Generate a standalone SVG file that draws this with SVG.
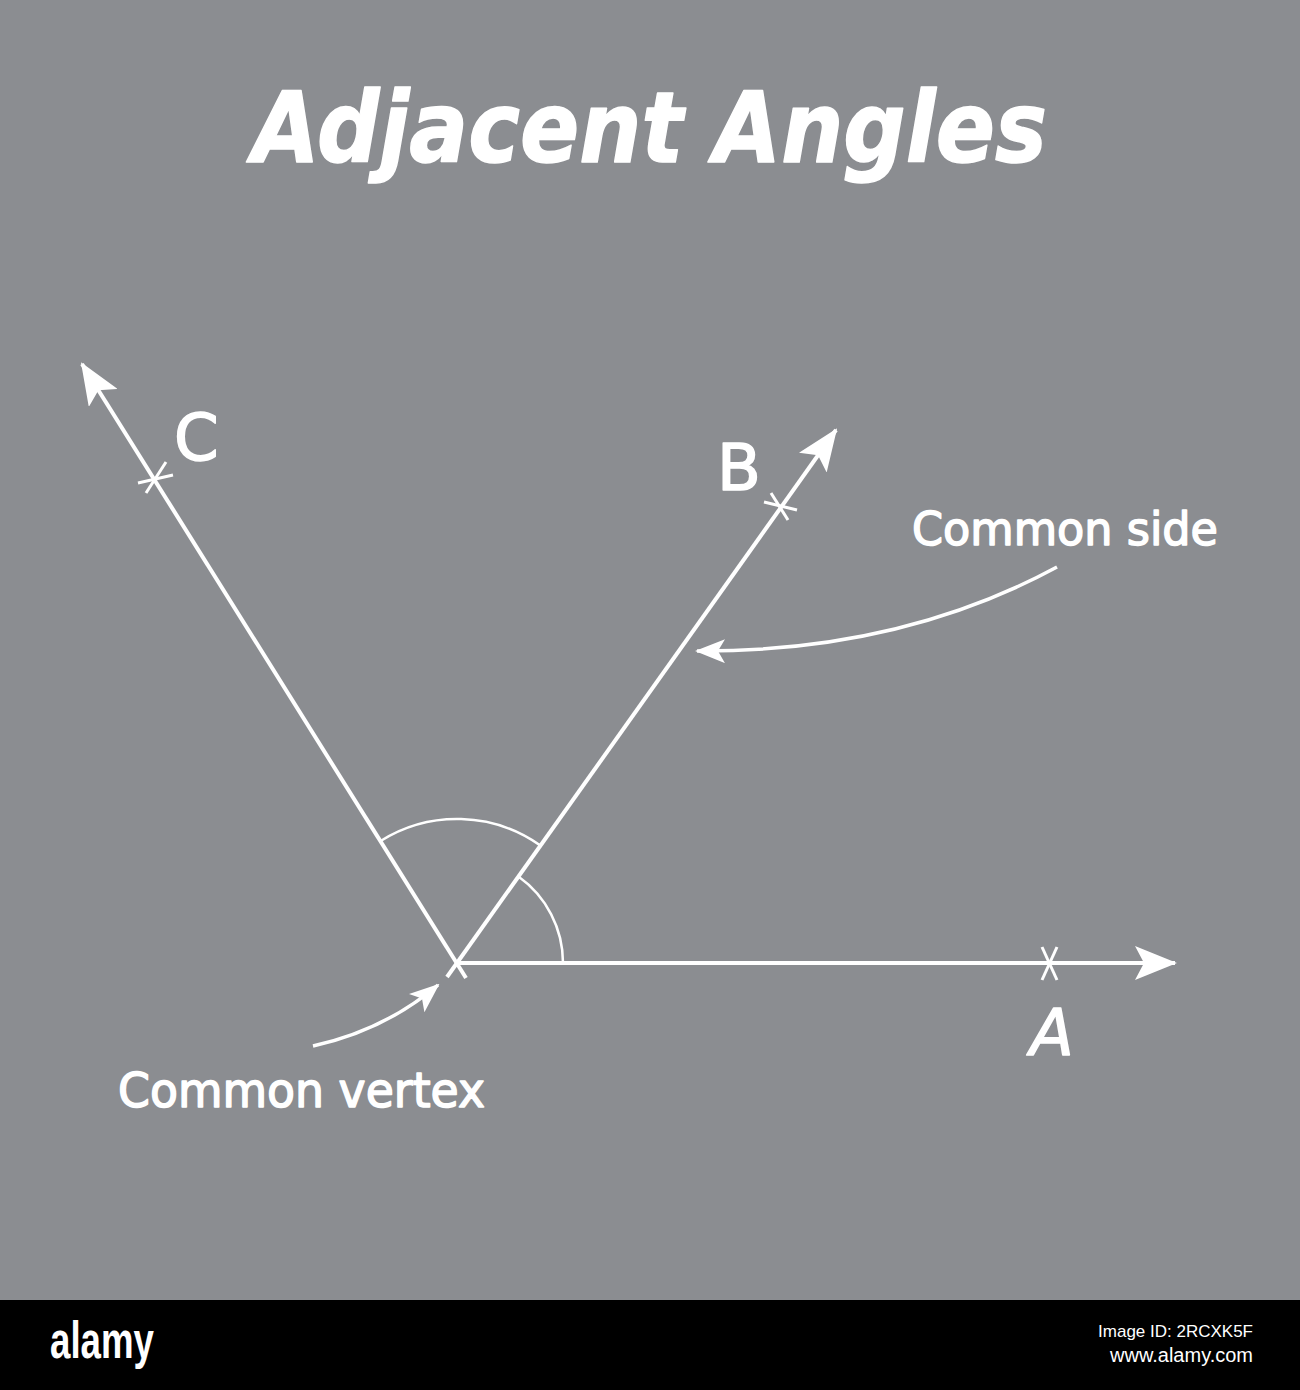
<svg xmlns="http://www.w3.org/2000/svg" width="1300" height="1390" viewBox="0 0 1300 1390">
<defs>
<style>
.ray{stroke:#fff;stroke-width:4;fill:none;stroke-linecap:butt}
.tick{stroke:#fff;stroke-width:3;fill:none}
.arc{stroke:#fff;stroke-width:2.5;fill:none}
.lead{stroke:#fff;stroke-width:3.5;fill:none}
.lbl{font-family:"DejaVu Sans",sans-serif;fill:#fff;stroke:#fff;stroke-width:1.5;stroke-linejoin:round}
</style>
<marker id="ah" viewBox="0 0 42 34" refX="40" refY="17" markerWidth="42" markerHeight="34" markerUnits="userSpaceOnUse" orient="auto">
<path d="M42,17 L0,0 L9,17 L0,34 Z" fill="#fff"/>
</marker>
<marker id="sh" viewBox="0 0 30 24" refX="28" refY="12" markerWidth="30" markerHeight="24" markerUnits="userSpaceOnUse" orient="auto">
<path d="M30,12 L0,0 L7,12 L0,24 Z" fill="#fff"/>
</marker>
</defs>
<rect width="1300" height="1300" fill="#8b8d91"/>
<text class="lbl" x="252" y="162" font-size="98" font-weight="bold" font-style="italic" textLength="795" lengthAdjust="spacingAndGlyphs" stroke-width="0">Adjacent Angles</text>
<g id="connectors">
<line class="ray" x1="457" y1="963" x2="1175" y2="963" marker-end="url(#ah)"/>
<line class="ray" x1="466" y1="978" x2="82" y2="364" marker-end="url(#ah)"/>
<line class="ray" x1="447" y1="977" x2="836" y2="430" marker-end="url(#ah)"/>
<path class="arc" d="M380.6,841 A144,144 0 0 1 540.4,845.6"/>
<path class="arc" d="M518.4,876.6 A106,106 0 0 1 563,963"/>
<path class="lead" d="M1057,567 Q900,652 697,651" marker-end="url(#sh)"/>
<path class="lead" d="M313,1046 Q385,1030 438,985" marker-end="url(#sh)"/>
</g>
<g id="tickC"><line class="tick" x1="138" y1="483" x2="173" y2="475"/><line class="tick" x1="146" y1="493" x2="166" y2="462"/></g>
<g id="tickB"><line class="tick" x1="764" y1="502" x2="797" y2="510"/><line class="tick" x1="771" y1="493" x2="788" y2="520"/></g>
<g id="tickA"><line class="tick" x1="1042" y1="947" x2="1057" y2="980"/><line class="tick" x1="1057" y1="947" x2="1042" y2="980"/></g>
<g id="labelC"><text class="lbl" x="174" y="460" font-size="64">C</text></g>
<g id="labelB"><text class="lbl" x="717" y="490" font-size="64">B</text></g>
<g id="labelA"><text class="lbl" x="1030" y="1055" font-size="64" font-style="italic">A</text></g>
<g id="commonSide"><text class="lbl" x="912" y="545" font-size="46" textLength="306" lengthAdjust="spacingAndGlyphs" stroke-width="0.8">Common side</text></g>
<g id="commonVertex"><text class="lbl" x="118" y="1107" font-size="48" textLength="367" lengthAdjust="spacingAndGlyphs" stroke-width="0.8">Common vertex</text></g>
<g id="footer">
<rect x="0" y="1300" width="1300" height="90" fill="#000"/>
<text x="50" y="1358" font-family="Liberation Sans,sans-serif" font-weight="bold" font-size="52" fill="#fff" textLength="104" lengthAdjust="spacingAndGlyphs">alamy</text>
<text x="1253" y="1337" font-family="Liberation Sans,sans-serif" font-size="17" fill="#fff" text-anchor="end">Image ID: 2RCXK5F</text>
<text x="1253" y="1362" font-family="Liberation Sans,sans-serif" font-size="20" fill="#fff" text-anchor="end">www.alamy.com</text>
</g>
</svg>
